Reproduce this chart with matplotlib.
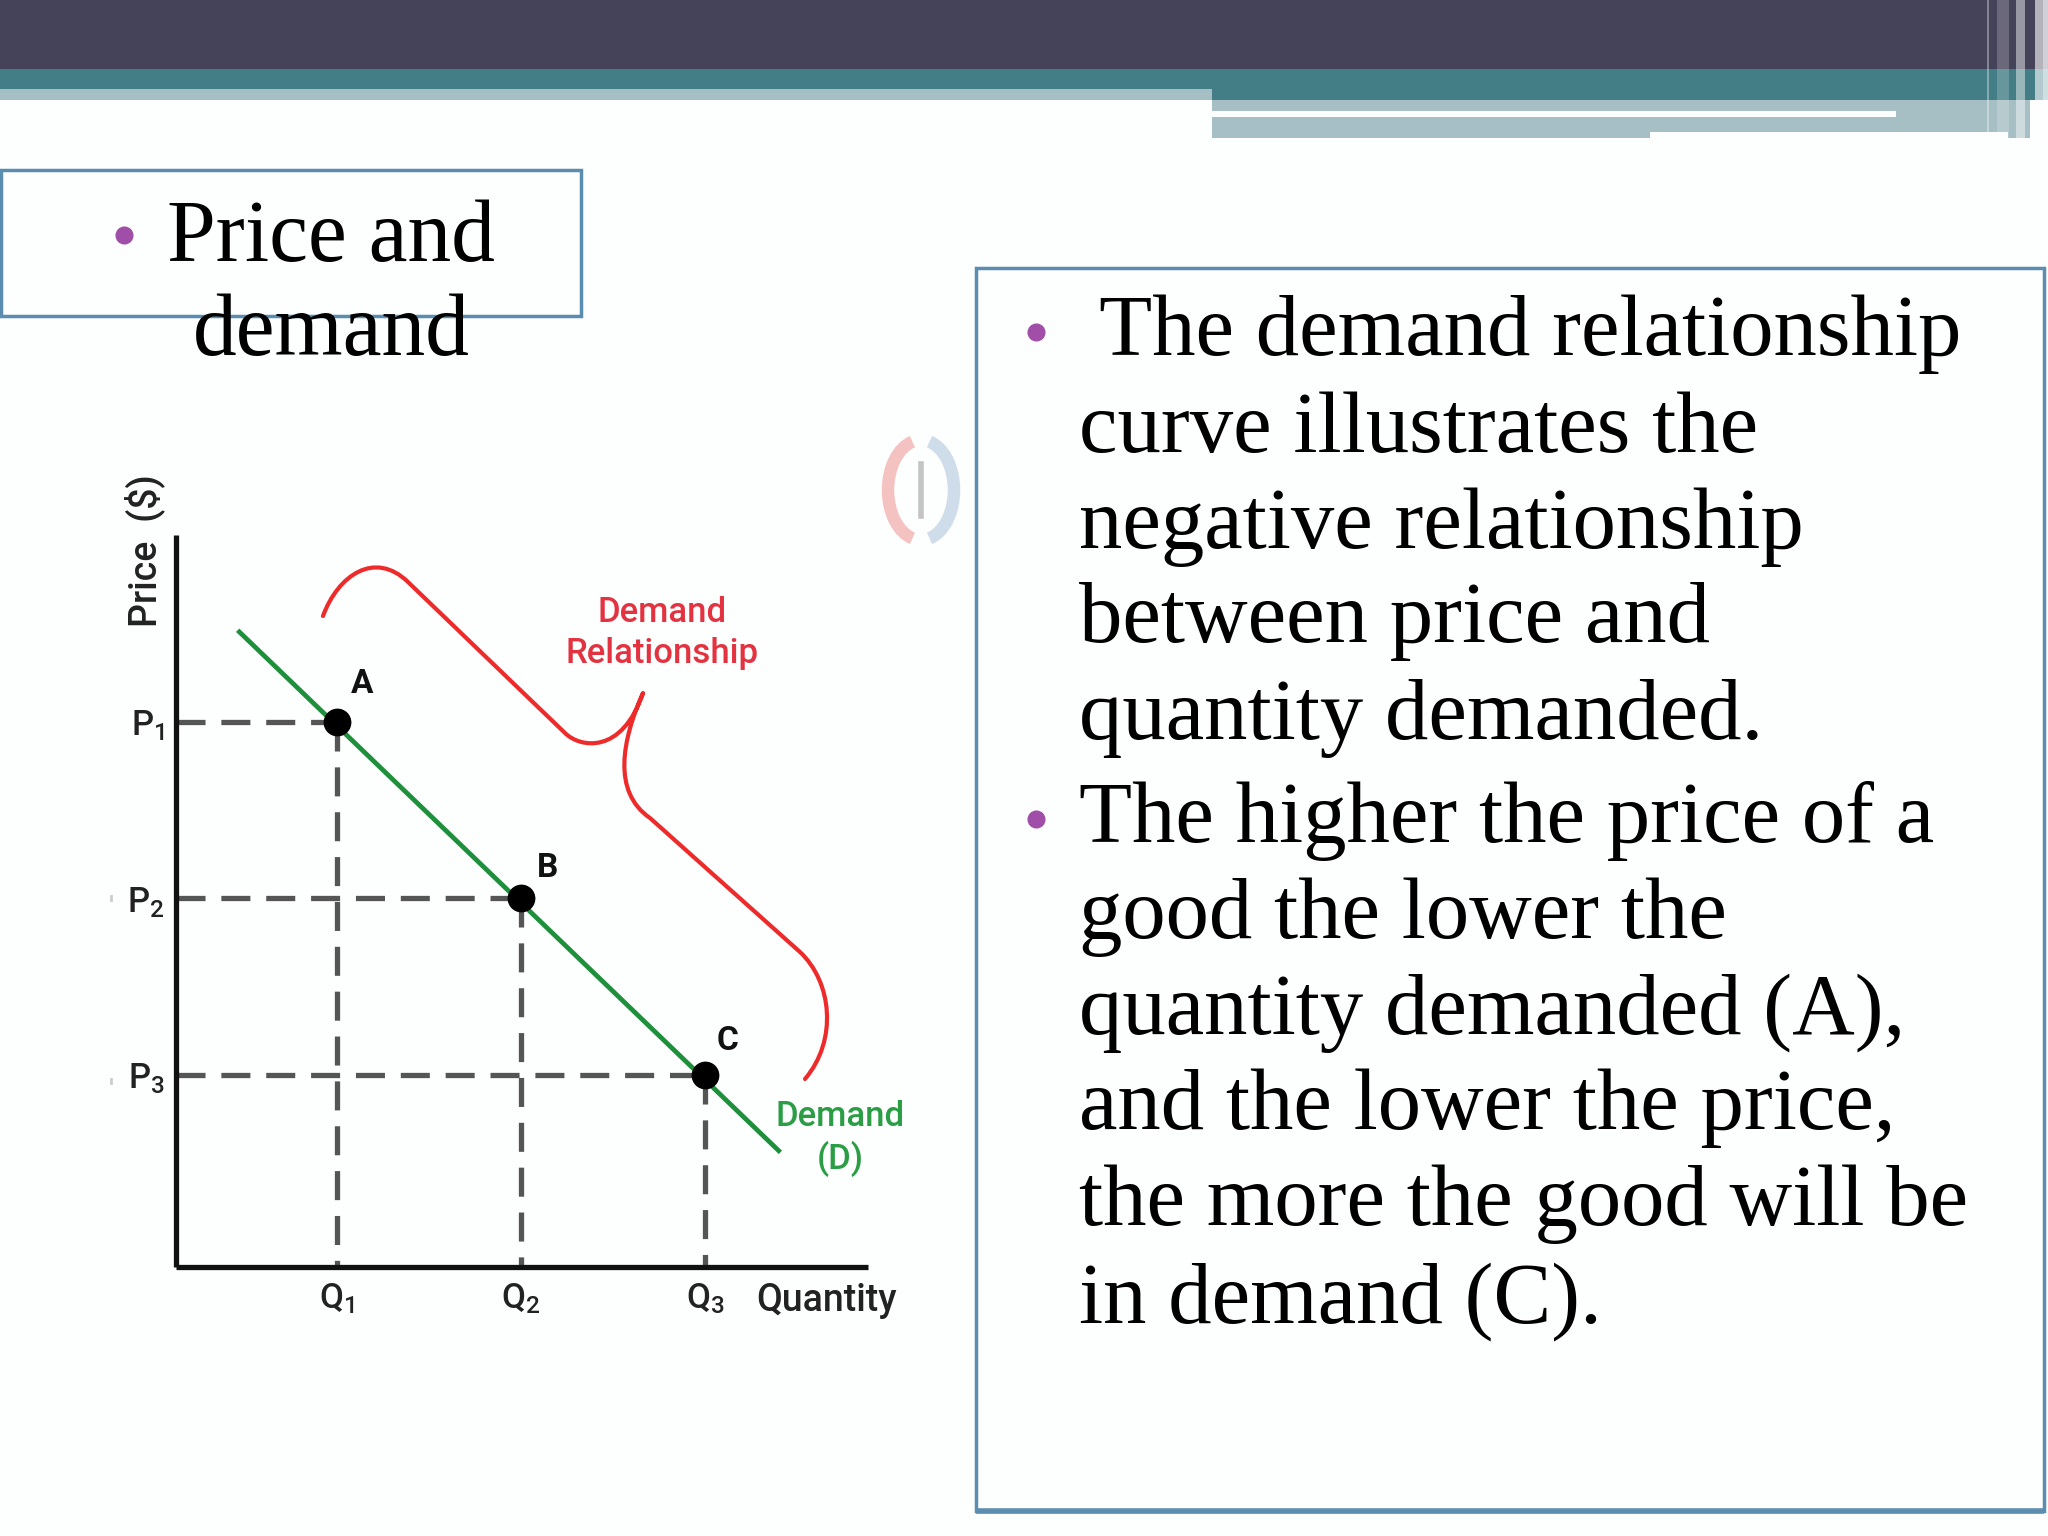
import numpy as np
import matplotlib
matplotlib.use("Agg")
import matplotlib.pyplot as plt
from matplotlib.path import Path
from matplotlib.patches import PathPatch, Rectangle, Arc

# ── chart values ─────────────────────────────────────────────
quantities = [1, 2, 3]
prices = [3, 2, 1]
q_labels = ["Q$_1$", "Q$_2$", "Q$_3$"]
p_labels = ["P$_1$", "P$_2$", "P$_3$"]
point_names = ["A", "B", "C"]
demand_q = [0.46, 3.41]
demand_p = [3.52, 0.56]

title_lines = ["Price and", "demand"]
body_lines = [
    " The demand relationship",
    "curve illustrates the",
    "negative relationship",
    "between price and",
    "quantity demanded.",
    "The higher the price of a",
    "good the lower the",
    "quantity demanded (A),",
    "and the lower the price,",
    "the more the good will be",
    "in demand (C).",
]
bullet_rows = [0, 5]

W, H = 2048, 1536
SANS = ["Roboto", "Liberation Sans", "DejaVu Sans"]
SERIF = ["Liberation Serif", "DejaVu Serif"]
plt.rcParams["mathtext.default"] = "regular"

fig = plt.figure(figsize=(20.48, 15.36), dpi=100, facecolor="#fdfefe")

# background layer in pixel coordinates
bg = fig.add_axes([0, 0, 1, 1], zorder=0)
bg.set_xlim(0, W)
bg.set_ylim(H, 0)
bg.axis("off")

# ── header bands ─────────────────────────────────────────────
bg.add_patch(Rectangle((0, 0), W, 69, color="#45435a", lw=0))
bg.add_patch(Rectangle((0, 69), 1212, 20, color="#437d85", lw=0))
bg.add_patch(Rectangle((0, 89), 1212, 11, color="#a6bfc4", lw=0))
bg.add_patch(Rectangle((1212, 69), W - 1212, 31, color="#437d85", lw=0))
bg.add_patch(Rectangle((1212, 100), 818, 38, color="#a6bfc4", lw=0))
bg.add_patch(Rectangle((1212, 111), 684, 6, color="#fdfefe", lw=0))
bg.add_patch(Rectangle((1650, 132), 358, 7, color="#fdfefe", lw=0))
# thin stripes at the right edge
for x0, w, a in [(1987, 2, 0.35), (1997, 12, 0.2), (2016, 9, 0.45),
                 (2035, 8, 0.6), (2043, 5, 0.75)]:
    bg.add_patch(Rectangle((x0, 0), w, 138, color="white", alpha=a, lw=0))

# ── title box ────────────────────────────────────────────────
bg.add_patch(Rectangle((1, 170), 580, 146, fill=False, ec="#5b8db0", lw=2.5))
bg.plot([124], [235], "o", color="#a04ea8", ms=12)
bg.text(167, 261, title_lines[0], family=SERIF, fontsize=63, va="baseline", ha="left")
bg.text(331, 355, title_lines[1], family=SERIF, fontsize=63, va="baseline", ha="center")

# ── text box on the right ────────────────────────────────────
bg.add_patch(Rectangle((976, 268), 1068, 1243, fill=False, ec="#5b8db0", lw=2.5))
bg.plot([976, 2044], [1511, 1511], color="#5b8db0", lw=4, solid_capstyle="butt")
baselines = [355, 452, 548, 642, 739, 842, 938, 1034, 1129, 1225, 1322]
for i, (line, yb) in enumerate(zip(body_lines, baselines)):
    bg.text(1079, yb, line, family=SERIF, fontsize=62.5, va="baseline", ha="left")
    if i in bullet_rows:
        bg.plot([1036], [yb - 23], "o", color="#a04ea8", ms=12)

# faint logo mark
bg.add_patch(Arc((921, 490), 66, 100, theta1=100, theta2=260, color="#f4b4b4", lw=9, alpha=0.8))
bg.add_patch(Arc((921, 490), 66, 100, theta1=-80, theta2=80, color="#c4d4e6", lw=9, alpha=0.8))
bg.plot([921, 921], [464, 516], color="#c4c4c4", lw=4)
bg.plot([111, 111], [896, 900], color="#cccccc", lw=2)
bg.plot([111, 111], [1079, 1083], color="#cccccc", lw=2)

# ── red brace (Demand Relationship) ──────────────────────────
verts = [(323, 616), (338, 575), (375, 550), (408, 582),
         (565, 733),
         (580, 748), (622, 755), (643, 693),
         (622, 740), (612, 792), (650, 818),
         (800, 952),
         (832, 982), (838, 1040), (805, 1079)]
codes = [Path.MOVETO, Path.CURVE4, Path.CURVE4, Path.CURVE4,
         Path.LINETO,
         Path.CURVE4, Path.CURVE4, Path.CURVE4,
         Path.CURVE4, Path.CURVE4, Path.CURVE4,
         Path.LINETO,
         Path.CURVE4, Path.CURVE4, Path.CURVE4]
bg.add_patch(PathPatch(Path(verts, codes), fill=False, ec="#ee2b2b", lw=3,
                       capstyle="round", joinstyle="round"))
label_kw = dict(family=SANS, fontsize=25, weight="medium", ha="center", va="center")
bg.text(662, 612, "Demand", color="#e33340", **label_kw)
bg.text(662, 654, "Relationship", color="#e33340", **label_kw)
bg.text(840, 1117, "Demand", color="#2a9d45", **label_kw)
bg.text(840, 1159, "(D)", color="#2a9d45", **label_kw)

# ── demand chart ─────────────────────────────────────────────
ax = fig.add_axes([176 / W, (H - 1267) / H, 692 / W, 732 / H], zorder=1)
ax.set_facecolor("none")
ax.set_xlim(0.125, 3.886)
ax.set_ylim(-0.09, 4.06)
for side in ["top", "right"]:
    ax.spines[side].set_visible(False)
for side in ["left", "bottom"]:
    ax.spines[side].set_linewidth(3.8)
    ax.spines[side].set_color("#111111")
    ax.spines[side].set_capstyle("butt")

x0, y0 = ax.get_xlim()[0], ax.get_ylim()[0]
for q, p in zip(quantities, prices):
    ax.plot([x0, q], [p, p], color="#555555", lw=3.8, dashes=(5.5, 3), zorder=2)
    ax.plot([q, q], [p, y0], color="#555555", lw=3.8, dashes=(5.5, 3), zorder=2)

ax.plot(demand_q, demand_p, color="#1e8f3a", lw=3.4, zorder=3, solid_capstyle="butt")
ax.plot(quantities, prices, "o", color="black", ms=19, zorder=4)
for name, q, p, off in zip(point_names, quantities, prices, [(18, 27), (19, 22), (16, 24)]):
    ax.annotate(name, (q, p), xytext=off, textcoords="offset points",
                family=SANS, fontsize=24, weight="bold", ha="center", va="center",
                color="#111111")

ax.set_xticks(quantities, q_labels, family=SANS, fontsize=25, weight="medium", color="#222222")
ax.set_yticks(prices, p_labels, family=SANS, fontsize=25, weight="medium", color="#222222")
ax.tick_params(axis="x", length=0, pad=10)
ax.tick_params(axis="y", length=0, pad=8)
ax.text(-0.046, 0.978, "Price  ($)", transform=ax.transAxes, rotation=90,
        family=SANS, fontsize=27, weight="medium", ha="center", va="center",
        color="#222222")
ax.text(0.94, -0.046, "Quantity", transform=ax.transAxes,
        family=SANS, fontsize=27, weight="medium", ha="center", va="center",
        color="#222222")

fig.savefig("out.png", dpi=100, facecolor=fig.get_facecolor())
